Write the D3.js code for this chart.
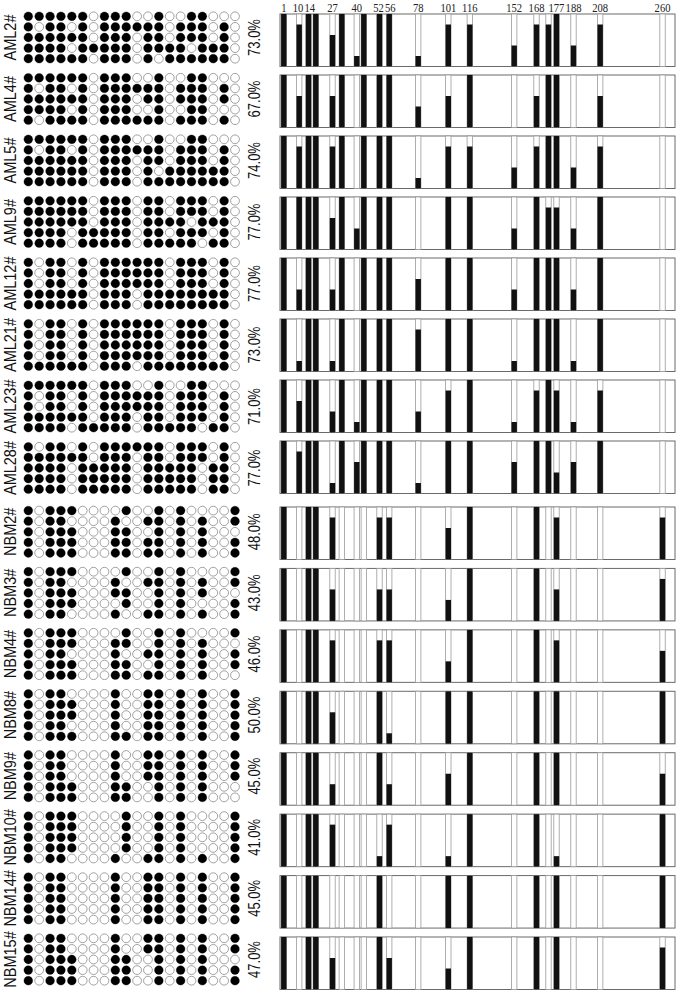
<!DOCTYPE html>
<html><head><meta charset="utf-8">
<script src="https://cdn.jsdelivr.net/npm/d3@7"></script>
<style>body{margin:0;background:#fff}svg{display:block}</style>
</head><body>
<svg id="chart" width="679" height="992"></svg>
<script>
// CpG site tick labels (blank = unlabelled site)
const siteLabels = ["1","10","14","","27","","40","","52","56","78","101","116","152","168","","177","188","208","260"];
// position of each site along the bar track, % of track width
const sitePos = [0.96,4.86,7.22,9.06,13.29,15.65,19.44,21.22,25.19,27.65,34.99,42.61,48.05,59.29,64.94,67.97,70.0,74.3,81.06,96.84];

const sampleNames = ["AML2#","AML4#","AML5#","AML9#","AML12#","AML21#","AML23#","AML28#",
                     "NBM2#","NBM3#","NBM4#","NBM8#","NBM9#","NBM10#","NBM14#","NBM15#"];
const methPercent = [73,67,74,77,77,73,71,77,48,43,46,50,45,41,45,47];

// clone-by-CpG methylation (1 = methylated, 0 = unmethylated)
const aml2  = ["11111101110010011000","10110101111110111010","11111101110110111010","11110111110111101110","11111101110101111110"];
const aml4  = ["11111101110010011000","10110101111110111010","11111101110110111010","11110101110010011000","10111101111110111010"];
const aml5  = ["11111101110010011000","10110101111110111010","11111101110110111010","11111101110101111110","11111101110111111110"];
const aml9  = ["11111101110110111010","11111101110110111010","11111101110111101110","11110111110110111010","11110111110111110110"];
const aml12 = ["10110101111110111010","10110101111110111010","10110101111110111010","11111101110111111110","11111101110111111110"];
const aml21 = ["10110101111110111010","10110101111110111010","10110101111110111010","10110101111110111010","11111101110111111110"];
const aml23 = ["11111101110010011000","10110101111110111010","10110101111110111010","11111101110110111010","11110111110111110110"];
const aml28 = ["10110101111110111010","11111101110110111010","11110111110111110110","11110111110111110110","11110111110111110110"];
const nbm2  = ["10111000010010100001","10110000100110101001","10111000110010101000","10111000110110101001","10111000110110101001"];
const nbm3  = ["10111000010010100001","10110000100110101001","10111000110010101000","10111000010010100001","10110000100110101001"];
const nbm4  = ["10111000010010100001","10111000110010101000","10110000100110101001","10111000110010101001","10111000110110101000"];
const nbm8  = ["10110000100110101001","10111000100110101001","10111000100110101001","10110000100110101001","10111000110110101001"];
const nbm9  = ["10110000100110101001","10110000100110101001","10110000100110101001","10111000110010101000","10111000110010101000"];
const nbm10 = ["10111000010010100001","10111000010010100001","10111000010010100001","10111000010010100001","10110000100110101001"];
const nbm14 = ["10110000100110101001","10110000100110101001","10110000100110101001","10110000100110101001","10110000100110101001"];
const nbm15 = ["10110000100110101001","10110000100110101001","10111000110010101000","10111000110010101001","10111000110010101001"];
const cloneData = [aml2,aml4,aml5,aml9,aml12,aml21,aml23,aml28,nbm2,nbm3,nbm4,nbm8,nbm9,nbm10,nbm14,nbm15];

const svg = d3.select("#chart");
const nCpG = siteLabels.length;

// layout scales
const xDot = d3.scaleLinear().domain([0, nCpG-1]).range([28.3, 235]);
const yRow = d3.scaleLinear().domain([0, 4]).range([-21.2, 21.2]);
const centerAML = d3.scaleLinear().domain([0, 7]).range([37.5, 468]);
const centerNBM = d3.scaleLinear().domain([0, 7]).range([531.8, 959.5]);
const boxTopAML = d3.scaleLinear().domain([0, 7]).range([14, 441]);
const boxTopNBM = d3.scaleLinear().domain([0, 7]).range([507, 937]);
const boxH = 52.5;
const xTrack = d3.scaleLinear().domain([0, 100]).range([280, 675]);
const barW = 5.4;

// CpG position labels at the top, nudged apart where they would collide
const labFont = 11.5, labSX = 0.92, digitW = labFont * 0.5 * labSX;
const labs = siteLabels.map((t, i) => ({t, x: xTrack(sitePos[i]), w: t.length * digitW}))
  .filter(d => d.t !== "");
for (let it = 0; it < 60; it++) {
  for (let j = 1; j < labs.length; j++) {
    const a = labs[j-1], b = labs[j];
    const need = (a.w + b.w) / 2 + 1.2;
    const gap = b.x - a.x;
    if (gap < need) { const p = (need - gap) / 2; a.x -= p; b.x += p; }
  }
}
svg.append("g").selectAll("text").data(labs).join("text")
  .attr("transform", d => `translate(${d.x},11.5) scale(${labSX},1)`)
  .attr("text-anchor", "middle")
  .attr("font-family", "'Liberation Serif','DejaVu Serif',serif")
  .attr("font-size", labFont)
  .attr("fill", "#222")
  .text(d => d.t);

cloneData.forEach((rows, s) => {
  const isAML = s < 8;
  const k = isAML ? s : s - 8;
  const cy = isAML ? centerAML(k) : centerNBM(k);
  const g = svg.append("g");

  // lollipop dot grid
  const cells = [];
  rows.forEach((r, ri) => r.split("").forEach((c, ci) => cells.push({ri, ci, m: c === "1"})));
  g.selectAll("circle").data(cells).join("circle")
    .attr("cx", d => xDot(d.ci))
    .attr("cy", d => cy + yRow(d.ri))
    .attr("r", 4.4)
    .attr("fill", d => d.m ? "#000" : "#fff")
    .attr("stroke", d => d.m ? "#000" : "#8a8a8a")
    .attr("stroke-width", d => d.m ? 0.3 : 0.8);

  // sample label
  g.append("text")
    .attr("transform", `translate(15.5,${cy}) rotate(-90) scale(1,1.1)`)
    .attr("text-anchor", "middle")
    .attr("font-family", "'Liberation Sans',Arial,sans-serif")
    .attr("font-size", 14.5)
    .attr("fill", "#111")
    .text(sampleNames[s]);

  // percentage label
  g.append("text")
    .attr("transform", `translate(260,${cy}) rotate(-90) scale(1,1.25)`)
    .attr("text-anchor", "middle")
    .attr("font-family", "'Liberation Sans',Arial,sans-serif")
    .attr("font-size", 13)
    .attr("fill", "#111")
    .text(methPercent[s].toFixed(1) + "%");

  // bar panel: per-CpG methylation fraction
  const top = isAML ? boxTopAML(k) : boxTopNBM(k);
  const yB = d3.scaleLinear().domain([0, 1]).range([top + boxH, top]);
  const frac = d3.range(nCpG).map(ci => d3.mean(rows, r => +r[ci]));
  const bg = svg.append("g");
  bg.append("rect")
    .attr("x", xTrack(0)).attr("y", top)
    .attr("width", xTrack(100) - xTrack(0)).attr("height", boxH)
    .attr("fill", "#fff").attr("stroke", "#6a6a6a").attr("stroke-width", 1);
  bg.selectAll("rect.bg").data(frac).join("rect").attr("class", "bg")
    .attr("x", (d,i) => xTrack(sitePos[i]) - barW/2)
    .attr("y", top).attr("width", barW).attr("height", boxH)
    .attr("fill", "#fff").attr("stroke", "#9a9a9a").attr("stroke-width", 0.8);
  bg.selectAll("rect.fg").data(frac).join("rect").attr("class", "fg")
    .attr("x", (d,i) => xTrack(sitePos[i]) - barW/2)
    .attr("y", d => yB(d)).attr("width", barW)
    .attr("height", d => yB(0) - yB(d))
    .attr("fill", "#111");
});
</script>
</body></html>
